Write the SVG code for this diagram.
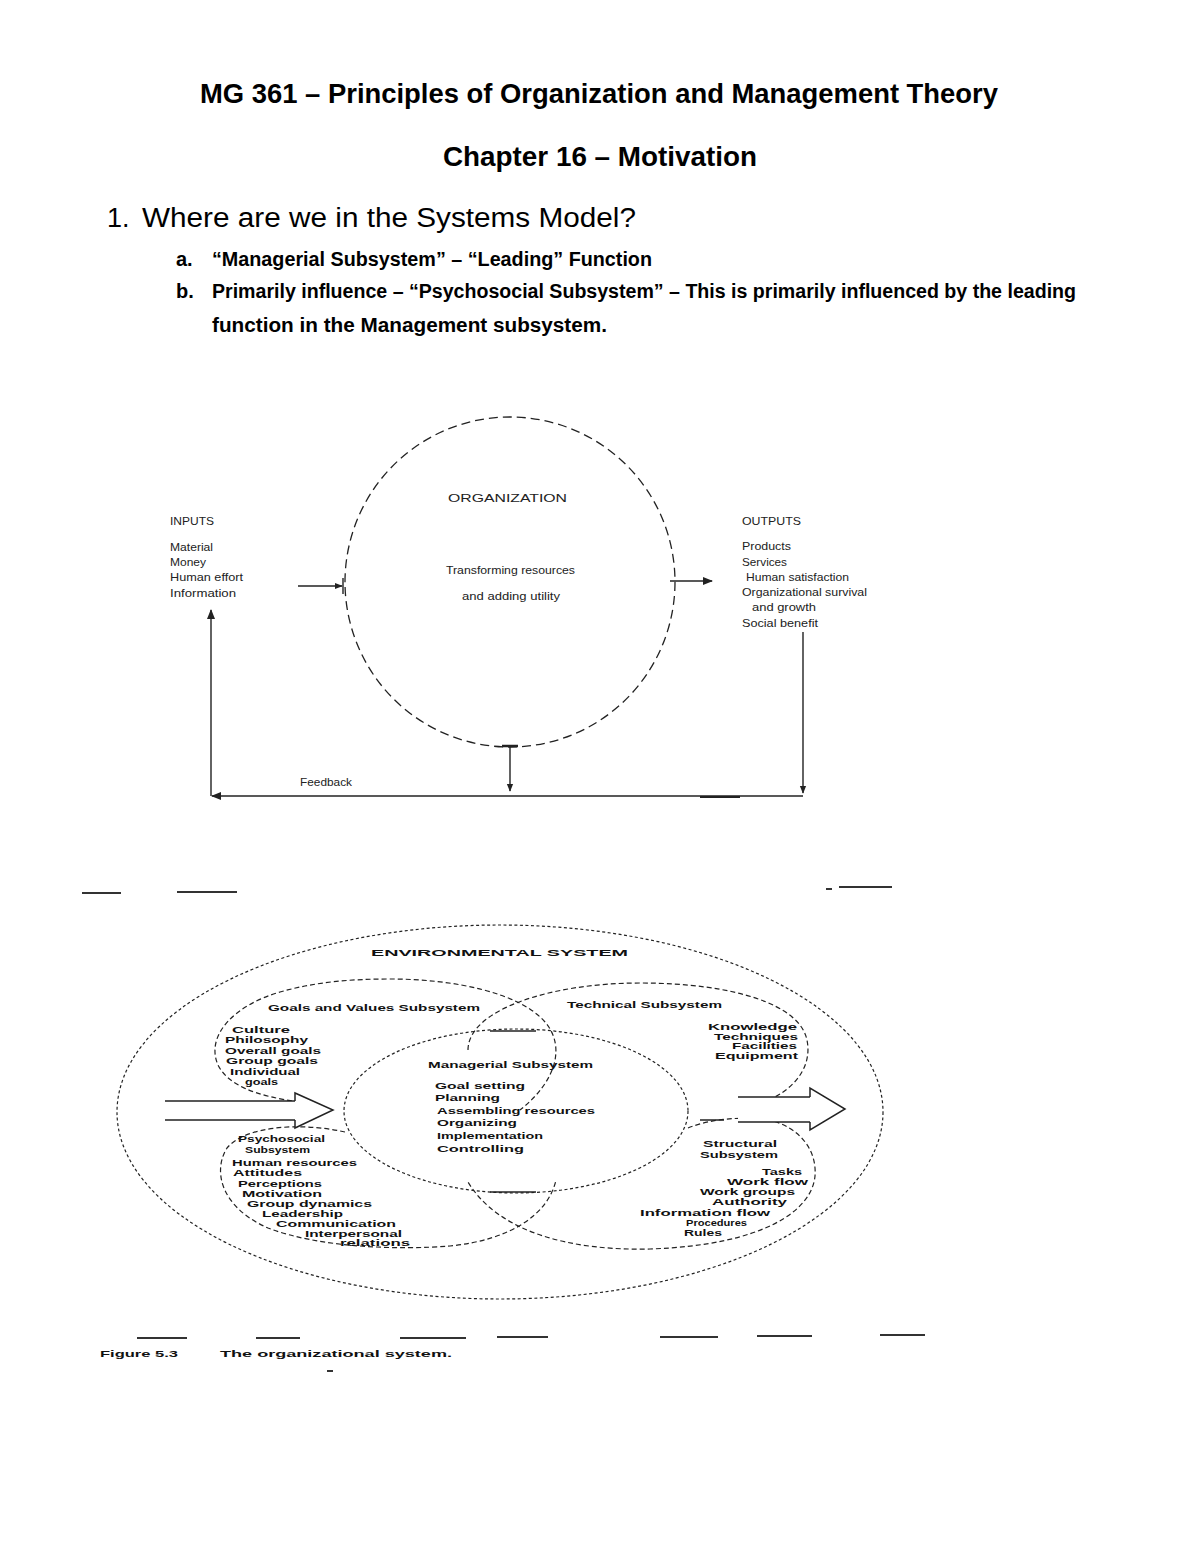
<svg xmlns="http://www.w3.org/2000/svg" width="1200" height="1553" viewBox="0 0 1200 1553">
<style>
.hb{font-family:"Liberation Sans",Arial,sans-serif;font-weight:bold;fill:#000}
.hr{font-family:"Liberation Sans",Arial,sans-serif;fill:#000}
.t{font-family:"Liberation Sans",Arial,sans-serif;font-size:11px;fill:#222}
.b{font-family:"Liberation Sans",Arial,sans-serif;font-size:9.5px;font-weight:bold;fill:#111}
.ln{stroke:#222;stroke-width:1.4;fill:none}
.dash{stroke:#222;stroke-width:1.3;fill:none;stroke-dasharray:9 5}
.dot{stroke:#222;stroke-width:1.2;fill:none;stroke-dasharray:3 2.5}
.md{stroke:#222;stroke-width:1.2;fill:none;stroke-dasharray:5 3}
.art{stroke:#333;stroke-width:2}
</style>
<defs>
<marker id="ah" viewBox="0 0 10 10" refX="9" refY="5" markerWidth="8" markerHeight="8" orient="auto" markerUnits="userSpaceOnUse">
<path d="M0,1 L10,5 L0,9 Z" fill="#222"/>
</marker>
<marker id="ah2" viewBox="0 0 10 10" refX="9" refY="5" markerWidth="12" markerHeight="10" orient="auto" markerUnits="userSpaceOnUse">
<path d="M0,1 L10,5 L0,9 Z" fill="#222"/>
</marker>
</defs>
<rect width="1200" height="1553" fill="#fff"/>

<g id="header">
<text class="hb" x="200" y="103" font-size="27" textLength="798" lengthAdjust="spacingAndGlyphs">MG 361 – Principles of Organization and Management Theory</text>
<text class="hb" x="443" y="166" font-size="27" textLength="314" lengthAdjust="spacingAndGlyphs">Chapter 16 – Motivation</text>
<text class="hr" x="107" y="227" font-size="27">1.</text>
<text class="hr" x="142" y="227" font-size="27" textLength="494" lengthAdjust="spacingAndGlyphs">Where are we in the Systems Model?</text>
<text class="hb" x="176" y="266" font-size="20">a.</text>
<text class="hb" x="212" y="266" font-size="20" textLength="440" lengthAdjust="spacingAndGlyphs">“Managerial Subsystem” – “Leading” Function</text>
<text class="hb" x="176" y="298" font-size="20">b.</text>
<text class="hb" x="212" y="298" font-size="20" textLength="864" lengthAdjust="spacingAndGlyphs">Primarily influence – “Psychosocial Subsystem” – This is primarily influenced by the leading</text>
<text class="hb" x="212" y="332" font-size="20" textLength="395" lengthAdjust="spacingAndGlyphs">function in the Management subsystem.</text>
</g>

<g id="top-diagram">
<g id="organization">
<circle class="dash" cx="510" cy="582" r="165"/>
<text class="t" x="448" y="502" font-size="12" textLength="119" lengthAdjust="spacingAndGlyphs">ORGANIZATION</text>
<text class="t" x="446" y="574" font-size="10.5" textLength="129" lengthAdjust="spacingAndGlyphs">Transforming resources</text>
<text class="t" x="462" y="600" font-size="10.5" textLength="98" lengthAdjust="spacingAndGlyphs">and adding utility</text>
</g>
<g id="inputs">
<text class="t" x="170" y="525" textLength="44" lengthAdjust="spacingAndGlyphs">INPUTS</text>
<text class="t" x="170" y="551" textLength="43" lengthAdjust="spacingAndGlyphs">Material</text>
<text class="t" x="170" y="566" textLength="36" lengthAdjust="spacingAndGlyphs">Money</text>
<text class="t" x="170" y="581" textLength="73" lengthAdjust="spacingAndGlyphs">Human effort</text>
<text class="t" x="170" y="597" textLength="66" lengthAdjust="spacingAndGlyphs">Information</text>
</g>
<g id="outputs">
<text class="t" x="742" y="525" textLength="59" lengthAdjust="spacingAndGlyphs">OUTPUTS</text>
<text class="t" x="742" y="550" textLength="49" lengthAdjust="spacingAndGlyphs">Products</text>
<text class="t" x="742" y="566" textLength="45" lengthAdjust="spacingAndGlyphs">Services</text>
<text class="t" x="746" y="581" textLength="103" lengthAdjust="spacingAndGlyphs">Human satisfaction</text>
<text class="t" x="742" y="596" textLength="125" lengthAdjust="spacingAndGlyphs">Organizational survival</text>
<text class="t" x="752" y="611" textLength="64" lengthAdjust="spacingAndGlyphs">and growth</text>
<text class="t" x="742" y="627" textLength="76" lengthAdjust="spacingAndGlyphs">Social benefit</text>
</g>
<g id="top-connectors">
<line class="ln" x1="298" y1="586" x2="342" y2="586" marker-end="url(#ah)"/>
<line class="ln" x1="343" y1="578" x2="343" y2="594"/>
<line class="ln" x1="670" y1="581" x2="712" y2="581" marker-end="url(#ah2)"/>
<line class="ln" x1="803" y1="632" x2="803" y2="793" marker-end="url(#ah)"/>
<line class="ln" x1="510" y1="746" x2="510" y2="791" marker-end="url(#ah)"/>
<line x1="502" y1="746" x2="518" y2="746" stroke="#222" stroke-width="2.5"/>
<line class="ln" x1="803" y1="796" x2="212" y2="796" marker-end="url(#ah2)"/>
<line class="ln" x1="211" y1="796" x2="211" y2="610" marker-end="url(#ah2)"/>
<line x1="700" y1="797" x2="740" y2="797" stroke="#222" stroke-width="2"/>
<text class="t" x="300" y="786" font-size="10.5" textLength="52" lengthAdjust="spacingAndGlyphs">Feedback</text>
</g>
</g>

<g id="artifacts">
<line class="art" x1="82" y1="893" x2="121" y2="893"/>
<line class="art" x1="177" y1="892" x2="237" y2="892"/>
<line class="art" x1="826" y1="889" x2="832" y2="889"/>
<line class="art" x1="839" y1="887" x2="892" y2="887"/>
<line class="art" x1="137" y1="1338" x2="187" y2="1338"/>
<line class="art" x1="256" y1="1338" x2="300" y2="1338"/>
<line class="art" x1="400" y1="1338" x2="466" y2="1338"/>
<line class="art" x1="497" y1="1337" x2="548" y2="1337"/>
<line class="art" x1="660" y1="1337" x2="718" y2="1337"/>
<line class="art" x1="757" y1="1336" x2="812" y2="1336"/>
<line class="art" x1="880" y1="1335" x2="925" y2="1335"/>
<line class="art" x1="327" y1="1371" x2="333" y2="1371"/>
</g>

<g id="bottom-diagram">
<g id="environmental-system">
<ellipse class="dot" cx="500" cy="1112" rx="383" ry="187"/>
<text class="b" x="371" y="956" textLength="257" lengthAdjust="spacingAndGlyphs">ENVIRONMENTAL SYSTEM</text>
</g>
<g id="subsystem-outlines">
<path class="md" d="M300,1102 C255,1096 228,1085 218,1065 C205,1035 235,1005 280,992 C315,982 350,979 390,979 C455,979 520,993 545,1022 C565,1045 558,1080 520,1110"/>
<path class="md" d="M468,1050 C468,1010 550,983 640,983 C735,983 800,1005 807,1040 C812,1065 797,1085 775,1097"/>
<path class="md" d="M345,1132 C300,1122 245,1126 227,1148 C212,1172 222,1208 268,1228 C320,1248 400,1250 450,1246 C510,1240 548,1215 556,1180"/>
<path class="md" d="M688,1128 C710,1119 740,1116 770,1120 C800,1128 817,1150 815,1176 C812,1210 765,1245 650,1249 C570,1251 498,1232 468,1182"/>
</g>
<g id="managerial">
<ellipse class="dot" cx="516" cy="1111" rx="172" ry="82" fill="#fff"/>
<text class="b" x="428" y="1068" textLength="165" lengthAdjust="spacingAndGlyphs">Managerial Subsystem</text>
<text class="b" x="435" y="1089" textLength="90" lengthAdjust="spacingAndGlyphs">Goal setting</text>
<text class="b" x="435" y="1101" textLength="65" lengthAdjust="spacingAndGlyphs">Planning</text>
<text class="b" x="437" y="1114" textLength="158" lengthAdjust="spacingAndGlyphs">Assembling resources</text>
<text class="b" x="437" y="1126" textLength="80" lengthAdjust="spacingAndGlyphs">Organizing</text>
<text class="b" x="437" y="1139" textLength="106" lengthAdjust="spacingAndGlyphs">Implementation</text>
<text class="b" x="437" y="1152" textLength="87" lengthAdjust="spacingAndGlyphs">Controlling</text>
</g>
<g id="goals-values">
<text class="b" x="268" y="1011" textLength="212" lengthAdjust="spacingAndGlyphs">Goals and Values Subsystem</text>
<text class="b" x="232" y="1033" textLength="58" lengthAdjust="spacingAndGlyphs">Culture</text>
<text class="b" x="225" y="1043" textLength="83" lengthAdjust="spacingAndGlyphs">Philosophy</text>
<text class="b" x="225" y="1054" textLength="96" lengthAdjust="spacingAndGlyphs">Overall goals</text>
<text class="b" x="226" y="1064" textLength="92" lengthAdjust="spacingAndGlyphs">Group goals</text>
<text class="b" x="230" y="1075" textLength="70" lengthAdjust="spacingAndGlyphs">Individual</text>
<text class="b" x="245" y="1085" textLength="33" lengthAdjust="spacingAndGlyphs">goals</text>
</g>
<g id="technical">
<text class="b" x="567" y="1008" textLength="155" lengthAdjust="spacingAndGlyphs">Technical Subsystem</text>
<text class="b" x="708" y="1030" textLength="89" lengthAdjust="spacingAndGlyphs">Knowledge</text>
<text class="b" x="714" y="1040" textLength="84" lengthAdjust="spacingAndGlyphs">Techniques</text>
<text class="b" x="732" y="1049" textLength="65" lengthAdjust="spacingAndGlyphs">Facilities</text>
<text class="b" x="715" y="1059" textLength="83" lengthAdjust="spacingAndGlyphs">Equipment</text>
</g>
<g id="psychosocial">
<text class="b" x="238" y="1142" textLength="87" lengthAdjust="spacingAndGlyphs">Psychosocial</text>
<text class="b" x="245" y="1153" textLength="65" lengthAdjust="spacingAndGlyphs">Subsystem</text>
<text class="b" x="232" y="1166" textLength="125" lengthAdjust="spacingAndGlyphs">Human resources</text>
<text class="b" x="233" y="1176" textLength="69" lengthAdjust="spacingAndGlyphs">Attitudes</text>
<text class="b" x="238" y="1187" textLength="84" lengthAdjust="spacingAndGlyphs">Perceptions</text>
<text class="b" x="242" y="1197" textLength="80" lengthAdjust="spacingAndGlyphs">Motivation</text>
<text class="b" x="247" y="1207" textLength="125" lengthAdjust="spacingAndGlyphs">Group dynamics</text>
<text class="b" x="262" y="1217" textLength="81" lengthAdjust="spacingAndGlyphs">Leadership</text>
<text class="b" x="276" y="1227" textLength="120" lengthAdjust="spacingAndGlyphs">Communication</text>
<text class="b" x="305" y="1237" textLength="97" lengthAdjust="spacingAndGlyphs">Interpersonal</text>
<text class="b" x="340" y="1246" textLength="70" lengthAdjust="spacingAndGlyphs">relations</text>
</g>
<g id="structural">
<text class="b" x="703" y="1147" textLength="74" lengthAdjust="spacingAndGlyphs">Structural</text>
<text class="b" x="700" y="1158" textLength="78" lengthAdjust="spacingAndGlyphs">Subsystem</text>
<text class="b" x="762" y="1175" textLength="40" lengthAdjust="spacingAndGlyphs">Tasks</text>
<text class="b" x="727" y="1185" textLength="81" lengthAdjust="spacingAndGlyphs">Work flow</text>
<text class="b" x="700" y="1195" textLength="95" lengthAdjust="spacingAndGlyphs">Work groups</text>
<text class="b" x="712" y="1205" textLength="75" lengthAdjust="spacingAndGlyphs">Authority</text>
<text class="b" x="640" y="1216" textLength="130" lengthAdjust="spacingAndGlyphs">Information flow</text>
<text class="b" x="686" y="1226" textLength="61" lengthAdjust="spacingAndGlyphs">Procedures</text>
<text class="b" x="684" y="1236" textLength="38" lengthAdjust="spacingAndGlyphs">Rules</text>
</g>
<g id="bottom-connectors">
<path d="M165,1101 H295 V1093 L333,1110 L295,1128 V1120 H165" fill="#fff" stroke="none"/>
<path d="M165,1101 H295 M165,1120 H295 M295,1101 V1093 L333,1110 L295,1128 V1120" fill="none" stroke="#222" stroke-width="1.5"/>
<path d="M738,1097 H810 V1088 L845,1109 L810,1130 V1122 H738" fill="#fff" stroke="none"/>
<path d="M738,1097 H810 M738,1122 H810 M810,1097 V1088 L845,1109 L810,1130 V1122" fill="none" stroke="#222" stroke-width="1.5"/>
<line x1="490" y1="1031" x2="536" y2="1031" stroke="#222" stroke-width="1.5"/>
<line x1="490" y1="1192" x2="536" y2="1192" stroke="#222" stroke-width="1.5"/>
<line x1="700" y1="1120" x2="724" y2="1120" stroke="#222" stroke-width="1.5"/>
</g>
</g>

<g id="caption">
<text class="b" x="100" y="1357" font-size="11" textLength="78" lengthAdjust="spacingAndGlyphs">Figure 5.3</text>
<text class="b" x="220" y="1357" font-size="11" font-weight="normal" textLength="232" lengthAdjust="spacingAndGlyphs">The organizational system.</text>
</g>
</svg>
